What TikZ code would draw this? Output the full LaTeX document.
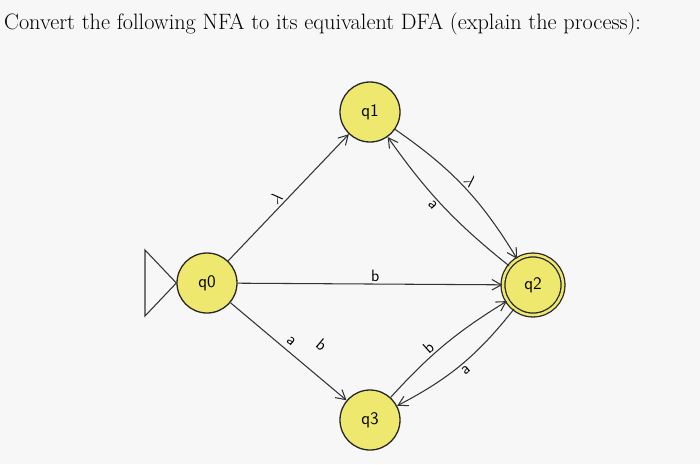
\documentclass[tikz,border=0pt]{standalone}
\usetikzlibrary{arrows.meta}
\definecolor{nfill}{RGB}{238,232,110}
\begin{document}
\begin{tikzpicture}[x=0.03cm,y=-0.03cm,
  st/.style={circle,draw=black!85,fill=nfill,line width=1.1pt,minimum size=1.8cm,inner sep=0pt,font=\sffamily\fontsize{15}{15}\selectfont},
  acc/.style={st,double=nfill,double distance=2.2pt},
  tr/.style={draw=black!80,line width=0.9pt,-{Straight Barb[length=8pt,width=9pt]}},
  lb/.style={font=\sffamily\fontsize{14}{14}\selectfont,inner sep=2pt}]
\fill[gray!6] (0,0) rectangle (700,464);
\useasboundingbox (0,0) rectangle (700,464);
\node[anchor=west,font=\fontsize{19}{22}\selectfont] (title) at (0,24) {Convert the following NFA to its equivalent DFA (explain the process):};
\node[st] (q0) at (207,283) {q0};
\node[st] (q1) at (370,112) {q1};
\node[acc] (q2) at (533,285) {q2};
\node[st] (q3) at (370,420) {q3};
\coordinate (s1) at (145,250);
\coordinate (s2) at (145,316);
\draw[black!80,line width=0.9pt] (s1) -- (q0.west) -- (s2) -- cycle;
\draw[tr] (q0) -- node[lb,pos=0.45,above,sloped]{$\lambda$} (q1);
\draw[tr] (q0) -- node[lb,pos=0.52,above]{b} (q2);
\draw[tr] (q0) -- node[lb,pos=0.47,above=2pt,sloped]{a} node[lb,pos=0.64,above=15pt,sloped]{b} (q3);
\draw[tr] (q1) to[bend left=12] node[lb,above,sloped]{$\lambda$} (q2);
\draw[tr] (q2) to[bend left=8] node[lb,pos=0.55,below,sloped]{a} (q1);
\draw[tr] (q3) to[bend left=8] node[lb,pos=0.4,above,sloped]{b} (q2);
\draw[tr] (q2) to[bend left=12] node[lb,pos=0.5,below,sloped]{a} (q3);
\end{tikzpicture}
\end{document}
